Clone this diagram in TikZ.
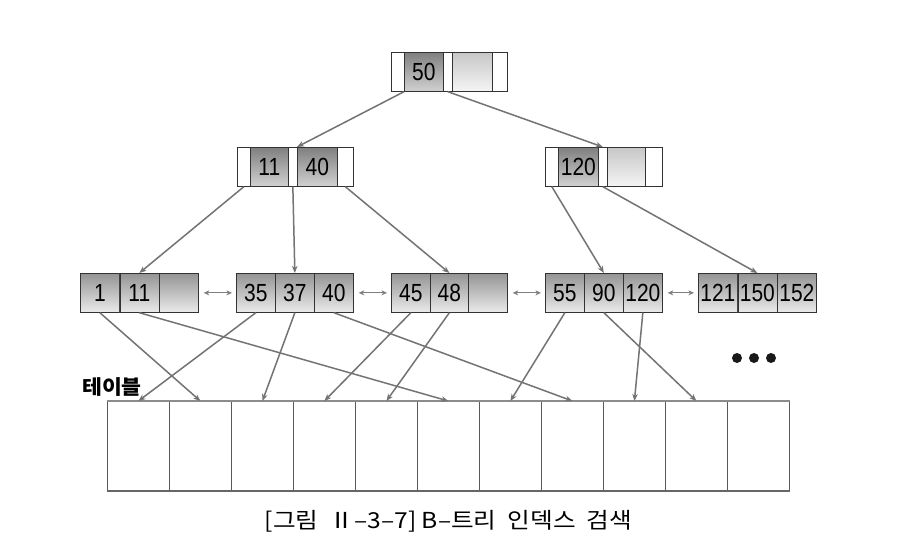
\documentclass[tikz,border=0pt]{standalone}
\usepackage{fontspec}
\setmainfont{Liberation Sans}
\newfontfamily\kr{Noto Sans CJK KR}
\usetikzlibrary{arrows.meta}
\newcommand\numtxt[1]{\scalebox{1}[1.18]{#1}}
\begin{document}
\begin{tikzpicture}[x=1pt,y=-1pt,
  cellb/.style={draw=black!80, line width=0.7pt, inner sep=0pt, minimum height=39pt, anchor=north west, font=\fontsize{21}{21}\selectfont},
  ptr/.style={cellb, fill=white},
  keyd/.style={cellb, top color=black!50, bottom color=black!18},
  keyl/.style={cellb, top color=black!22, bottom color=black!4},
  leafc/.style={cellb, minimum width=39pt, top color=black!42, bottom color=black!8},
  tcell/.style={draw=black!65, line width=0.8pt, fill=white, inner sep=0pt, minimum width=62pt, minimum height=89pt, anchor=north west},
  conn/.style={draw=black!55, line width=1.5pt, -{Stealth[length=7pt,width=5.5pt,inset=2pt]}},
  dbl/.style={draw=black!50, line width=1.1pt, {Stealth[length=5.5pt,width=5pt,inset=1.5pt]}-{Stealth[length=5.5pt,width=5pt,inset=1.5pt]}, shorten <=5pt, shorten >=4pt},
  dot/.style={circle, fill=black!90, inner sep=0pt, minimum size=10pt}
]
\useasboundingbox (0,0) rectangle (913,543);
\fill[white] (0,0) rectangle (913,543);

% root
\node[ptr, minimum width=13pt] (r0) at (391,52) {};
\node[keyd, minimum width=39pt] (rk0) at (404,52) {\numtxt{50}};
\node[ptr, minimum width=9pt] (r1) at (443,52) {};
\node[keyl, minimum width=40pt] (rk1) at (452,52) {};
\node[ptr, minimum width=15pt] (r2) at (492,52) {};

% level 2 left
\node[ptr, minimum width=13pt] (n1p0) at (237,147) {};
\node[keyd, minimum width=38pt] (n1k0) at (250,147) {\numtxt{11}};
\node[ptr, minimum width=9pt] (n1p1) at (288,147) {};
\node[keyd, minimum width=40pt] (n1k1) at (297,147) {\numtxt{40}};
\node[ptr, minimum width=16pt] (n1p2) at (337,147) {};

% level 2 right
\node[ptr, minimum width=13pt] (n2p0) at (545,147) {};
\node[keyd, minimum width=40pt] (n2k0) at (558,147) {\numtxt{120}};
\node[ptr, minimum width=9pt] (n2p1) at (598,147) {};
\node[keyl, minimum width=38pt] (n2k1) at (607,147) {};
\node[ptr, minimum width=17pt] (n2p2) at (645,147) {};

% leaves
\node[leafc] (l1a) at (80,273) {\numtxt{1}};
\node[leafc] (l1b) at (119.5,273) {\numtxt{11}};
\node[leafc] (l1c) at (159,273) {};
\node[leafc] (l2a) at (236,273) {\numtxt{35}};
\node[leafc] (l2b) at (275,273) {\numtxt{37}};
\node[leafc] (l2c) at (314,273) {\numtxt{40}};
\node[leafc] (l3a) at (391,273) {\numtxt{45}};
\node[leafc] (l3b) at (429.5,273) {\numtxt{48}};
\node[leafc] (l3c) at (468,273) {};
\node[leafc] (l4a) at (545,273) {\numtxt{55}};
\node[leafc] (l4b) at (584,273) {\numtxt{90}};
\node[leafc] (l4c) at (623,273) {\numtxt{120}};
\node[leafc] (l5a) at (698,273) {\numtxt{121}};
\node[leafc] (l5b) at (737.5,273) {\numtxt{150}};
\node[leafc] (l5c) at (777,273) {\numtxt{152}};

% table
\foreach \i in {1,...,11} {
  \node[tcell] (t\i) at ({107+62*(\i-1)},401) {};
}
\draw[line width=1.5pt, black!45] (t1.north west) -- (t11.north east);
\draw[line width=2.2pt, black!60] (t1.south west) -- (t11.south east);

% leaf links
\draw[dbl] (l1c.east) -- (l2a.west);
\draw[dbl] (l2c.east) -- (l3a.west);
\draw[dbl] (l3c.east) -- (l4a.west);
\draw[dbl] (l4c.east) -- (l5a.west);

% tree connectors
\draw[conn] (rk0.south west) -- (n1k1.north west);
\draw[conn] (r1.south) -- (n2p1.north);
\draw[conn] (n1p0.south) -- (l1b.north);
\draw[conn] (n1p1.south) -- (l2b.north);
\draw[conn] (n1p2.south) -- (l3b.north);
\draw[conn] (n2p0.south) -- (l4b.north);
\draw[conn] (n2p1.south) -- (l5b.north);

% leaf to table
\draw[conn] (l1a.south) -- (t2.north);
\draw[conn] (l1b.south) -- (t6.north);
\draw[conn] (l2a.south) -- (t1.north);
\draw[conn] (l2b.south) -- (t3.north);
\draw[conn] (l2c.south) -- (t8.north);
\draw[conn] (l3a.south) -- (t4.north);
\draw[conn] (l3b.south) -- (t5.north);
\draw[conn] (l4a.south) -- (t7.north);
\draw[conn] (l4b.south) -- (t10.north);
\draw[conn] (l4c.south) -- (t9.north);

% dots
\node[dot] (d1) at (737,358) {};
\node[dot] (d2) at (754,358) {};
\node[dot] (d3) at (771,358) {};

% labels
\node[anchor=west, inner sep=0pt, font=\kr\bfseries\fontsize{20}{20}\selectfont] (lbl) at (82,387) {\scalebox{1.08}[1]{테이블}};
\node[inner sep=0pt, font=\kr\fontsize{22}{22}\selectfont] (cap) at (448.5,521) {\scalebox{1.12}[1]{[그림\ \ Ⅱ–3–7] B–트리\ \ 인덱스\ \ 검색}};
\end{tikzpicture}
\end{document}
